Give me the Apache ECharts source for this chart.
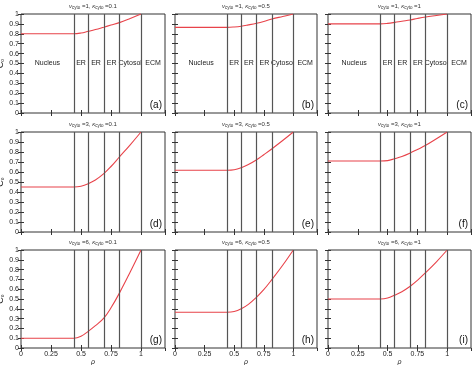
<!DOCTYPE html>
<html><head><meta charset="utf-8">
<script src="https://cdn.jsdelivr.net/npm/echarts@6/dist/echarts.min.js"></script>
<style>html,body{margin:0;padding:0;background:#fff}#c{width:474px;height:365px}</style>
</head><body><div id="c"></div>
<script>
// ---- data ----
const rho = [0, 0.38, 0.44, 0.5, 0.56, 0.62, 0.69, 0.75, 0.82, 0.91, 1];
const seriesA = [0.80, 0.80, 0.80, 0.808, 0.825, 0.843, 0.867, 0.888, 0.913, 0.955, 1.0];
const seriesB = [0.865, 0.865, 0.865, 0.869, 0.877, 0.890, 0.907, 0.925, 0.950, 0.975, 1.0];
const seriesC = [0.90, 0.90, 0.90, 0.905, 0.915, 0.927, 0.940, 0.955, 0.970, 0.985, 1.0];
const seriesD = [0.45, 0.45, 0.45, 0.458, 0.483, 0.52, 0.583, 0.655, 0.75, 0.872, 1.0];
const seriesE = [0.617, 0.617, 0.617, 0.622, 0.643, 0.675, 0.723, 0.773, 0.833, 0.915, 1.0];
const seriesF = [0.71, 0.71, 0.71, 0.714, 0.733, 0.755, 0.79, 0.825, 0.867, 0.932, 1.0];
const seriesG = [0.10, 0.10, 0.10, 0.12, 0.17, 0.228, 0.305, 0.41, 0.56, 0.775, 1.0];
const seriesH = [0.365, 0.365, 0.365, 0.372, 0.40, 0.445, 0.52, 0.595, 0.70, 0.844, 1.0];
const seriesI = [0.50, 0.50, 0.50, 0.51, 0.54, 0.575, 0.63, 0.69, 0.77, 0.88, 1.0];
const panelSeries = [seriesA, seriesB, seriesC, seriesD, seriesE, seriesF, seriesG, seriesH, seriesI];
const panelLetters = ['(a)', '(b)', '(c)', '(d)', '(e)', '(f)', '(g)', '(h)', '(i)'];
const vCyto = ['1', '1', '1', '3', '3', '3', '6', '6', '6'];
const kCyto = ['0.1', '0.5', '1', '0.1', '0.5', '1', '0.1', '0.5', '1'];
const boundaries = [0.44, 0.56, 0.69, 0.82, 1];
const regionNames = ['Nucleus', 'ER', 'ER', 'ER', 'Cytosol', 'ECM'];
const regionStart = [0, 0.44, 0.56, 0.69, 0.82, 1];
const regionEnd = [0.44, 0.56, 0.69, 0.82, 1, 1.2];
const xTickLabels = ['0', '0.25', '0.5', '0.75', '1'];
const yTickLabels = ['0', '0.1', '0.2', '0.3', '0.4', '0.5', '0.6', '0.7', '0.8', '0.9', '1'];

// ---- layout ----
const colLeft = [21, 175, 328], colWidth = [144, 142, 143];
const rowTop = [14, 132, 250], rowHeight = [99, 100, 98];
const FONT = 'Liberation Sans, Arial, sans-serif';

const grid = [], xAxis = [], yAxis = [], series = [], title = [];
for (let p = 0; p < 9; p++) {
  const r = Math.floor(p / 3), c = p % 3;
  grid.push({left: colLeft[c], top: rowTop[r], width: colWidth[c], height: rowHeight[r],
    containLabel: false, outerBoundsMode: 'none',
    show: true, borderColor: '#333', borderWidth: 1, backgroundColor: 'transparent'});
  const isBottom = r === 2, isLeft = c === 0;
  xAxis.push({type: 'value', gridIndex: p, min: 0, max: 1.2, interval: 0.25, position: 'bottom',
    axisLine: {show: false}, splitLine: {show: false},
    axisTick: {show: true, inside: true, length: 3, lineStyle: {color: '#333'}},
    axisLabel: {show: isBottom, fontSize: 7, color: '#222', fontFamily: FONT, margin: 3, showMaxLabel: false,
      formatter: v => { const i = Math.round(v / 0.25); return i < xTickLabels.length ? xTickLabels[i] : ''; }},
    name: isBottom ? 'ρ' : '', nameLocation: 'middle', nameGap: 11,
    nameTextStyle: {fontSize: 7, fontStyle: 'italic', color: '#222', fontFamily: FONT}});
  xAxis.push({type: 'value', gridIndex: p, min: 0, max: 1.2, interval: 0.25, position: 'top',
    axisLine: {show: false}, splitLine: {show: false}, axisLabel: {show: false},
    axisTick: {show: true, inside: true, length: 3, lineStyle: {color: '#333'}}});
  yAxis.push({type: 'value', gridIndex: p, min: 0, max: 1, interval: 0.1, position: 'left',
    axisLine: {show: false}, splitLine: {show: false},
    axisTick: {show: true, inside: true, length: 3, lineStyle: {color: '#333'}},
    axisLabel: {show: isLeft, fontSize: 7, color: '#222', fontFamily: FONT, margin: 2,
      formatter: v => yTickLabels[Math.round(v * 10)]},
    name: isLeft ? '{m|C\u0303}{s|o}' : '', nameLocation: 'middle', nameGap: 11, nameRotate: 90,
    nameTextStyle: {rich: {m: {fontSize: 9, color: '#222', fontFamily: FONT},
      s: {fontSize: 5, color: '#222', fontFamily: FONT, padding: [4, 0, 0, 0]}}}});
  yAxis.push({type: 'value', gridIndex: p, min: 0, max: 1, interval: 0.1, position: 'right',
    axisLine: {show: false}, splitLine: {show: false}, axisLabel: {show: false},
    axisTick: {show: true, inside: true, length: 3, lineStyle: {color: '#333'}}});

  const s = {type: 'line', xAxisIndex: 2 * p, yAxisIndex: 2 * p,
    data: rho.map((x, i) => [x, panelSeries[p][i]]),
    smooth: 0.4, symbol: 'none', silent: true,
    lineStyle: {color: '#e8434a', width: 1.1}, z: 3,
    markLine: {silent: true, symbol: 'none', label: {show: false}, animation: false,
      lineStyle: {color: '#555', type: 'solid', width: 1.2},
      data: boundaries.map(b => ({xAxis: b}))}};
  if (r === 0) {
    s.markArea = {silent: true, animation: false, itemStyle: {color: 'rgba(0,0,0,0)'},
      label: {show: true, position: 'inside', fontSize: 7, color: '#222', fontFamily: FONT},
      data: regionNames.map((n, i) => [{name: n, xAxis: regionStart[i], yAxis: 0}, {xAxis: regionEnd[i], yAxis: 1}])};
  }
  series.push(s);

  title.push({text: '{i|v}{s|cyto}{n| =' + vCyto[p] + ', }{i|\u03ba}{s|cyto}{n| =' + kCyto[p] + '}',
    left: colLeft[c] + colWidth[c] / 2, top: rowTop[r] - 11, textAlign: 'center', padding: 0,
    textStyle: {fontWeight: 'normal', rich: {
      i: {fontSize: 6, fontStyle: 'italic', fontWeight: 'normal', color: '#333', fontFamily: FONT},
      n: {fontSize: 6, fontWeight: 'normal', color: '#333', fontFamily: FONT},
      s: {fontSize: 4.5, fontWeight: 'normal', color: '#333', fontFamily: FONT, padding: [2, 0, 0, 0]}}}});
  title.push({text: panelLetters[p], left: colLeft[c] + colWidth[c] - 3, top: rowTop[r] + rowHeight[r] - 13,
    textAlign: 'right', padding: 0,
    textStyle: {fontSize: 10, fontWeight: 'normal', color: '#111', fontFamily: FONT}});
}

const chart = echarts.init(document.getElementById('c'), null, {renderer: 'canvas'});
chart.setOption({animation: false, backgroundColor: '#fff', title, grid, xAxis, yAxis, series});
</script></body></html>
